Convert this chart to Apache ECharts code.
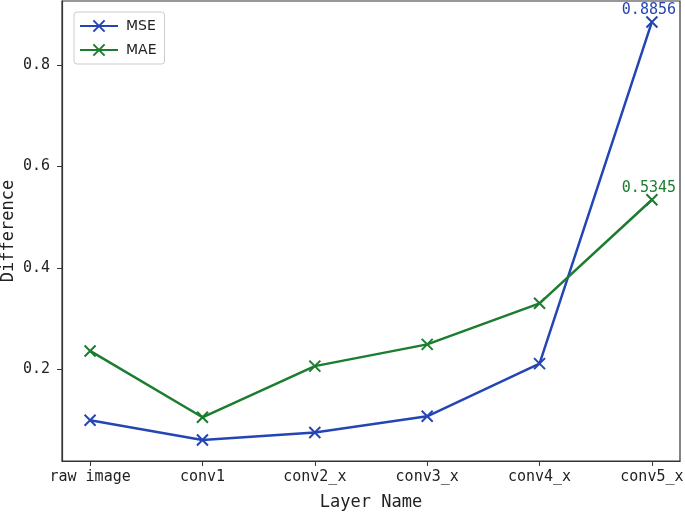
<!DOCTYPE html>
<html><head><meta charset="utf-8">
<script src="https://cdn.jsdelivr.net/npm/echarts@6/dist/echarts.min.js"></script>
<style>html,body{margin:0;padding:0;background:#fff}#c{width:685px;height:513px}</style>
</head><body><div id="c"></div>
<script>
const categories = ['raw image', 'conv1', 'conv2_x', 'conv3_x', 'conv4_x', 'conv5_x'];
const mse = [0.099, 0.060, 0.075, 0.107, 0.211, 0.8856];
const mae = [0.236, 0.105, 0.206, 0.249, 0.330, 0.5345];
const yTicks = [0.2, 0.4, 0.6, 0.8];
const xTicks = [0, 1, 2, 3, 4, 5];

const BLUE = '#2446b4', GREEN = '#1b7d2f';
const MONO = 'DejaVu Sans Mono';
const X = 'path://M0,0L10,10M10,0L0,10';
const last = categories.length - 1;

function mk(name, vals, color) {
  return {
    name, type: 'line', data: vals.map((v, i) => [i, v]),
    symbol: X, symbolSize: 11, showAllSymbol: true,
    lineStyle: {color, width: 2.5},
    itemStyle: {color, borderColor: color, borderWidth: 2},
    label: {show: true, position: 'top', distance: -2, offset: [-3, 0], color, fontFamily: MONO, fontSize: 15,
      formatter: p => p.dataIndex === last ? String(vals[last]) : ''},
    emphasis: {disabled: true}, animation: false
  };
}

const chart = echarts.init(document.getElementById('c'), null, {renderer: 'canvas'});
chart.setOption({
  animation: false,
  grid: {left: 62, right: 5, top: 1, bottom: 52, containLabel: false, outerBoundsMode: 'none',
    show: true, borderColor: '#333', borderWidth: 1.2},
  legend: {
    left: 74, top: 12, orient: 'vertical', itemWidth: 38, itemHeight: 14, itemGap: 10,
    padding: [7, 8, 7, 5], borderColor: '#ccc', borderWidth: 1, borderRadius: 3, backgroundColor: '#fff',
    textStyle: {fontFamily: 'DejaVu Sans', fontSize: 14, color: '#222', padding: [0, 0, 0, 3]},
    data: ['MSE', 'MAE']
  },
  xAxis: {
    type: 'value', min: -0.25, max: 5.25,
    name: 'Layer Name', nameLocation: 'middle', nameGap: 33,
    nameTextStyle: {fontFamily: MONO, fontSize: 17, color: '#222'},
    axisLine: {show: true, onZero: false, lineStyle: {color: '#333', width: 1.2}},
    axisTick: {show: true, length: 5, customValues: xTicks, lineStyle: {color: '#333'}},
    axisLabel: {customValues: xTicks, margin: 9, fontFamily: MONO, fontSize: 15, color: '#222',
      formatter: v => categories[Math.round(v)]},
    splitLine: {show: false}
  },
  yAxis: {
    type: 'value', min: 0.0187, max: 0.9269,
    name: 'Difference', nameLocation: 'middle', nameGap: 45, nameRotate: 90, nameMoveOverlap: false,
    nameTextStyle: {fontFamily: MONO, fontSize: 17, color: '#222'},
    axisLine: {show: true, onZero: false, lineStyle: {color: '#333', width: 1.2}},
    axisTick: {show: true, length: 5, customValues: yTicks, lineStyle: {color: '#333'}},
    axisLabel: {customValues: yTicks, margin: 12, fontFamily: MONO, fontSize: 15, color: '#222',
      formatter: v => v.toFixed(1)},
    splitLine: {show: false}
  },
  series: [mk('MSE', mse, BLUE), mk('MAE', mae, GREEN)]
});
</script></body></html>
